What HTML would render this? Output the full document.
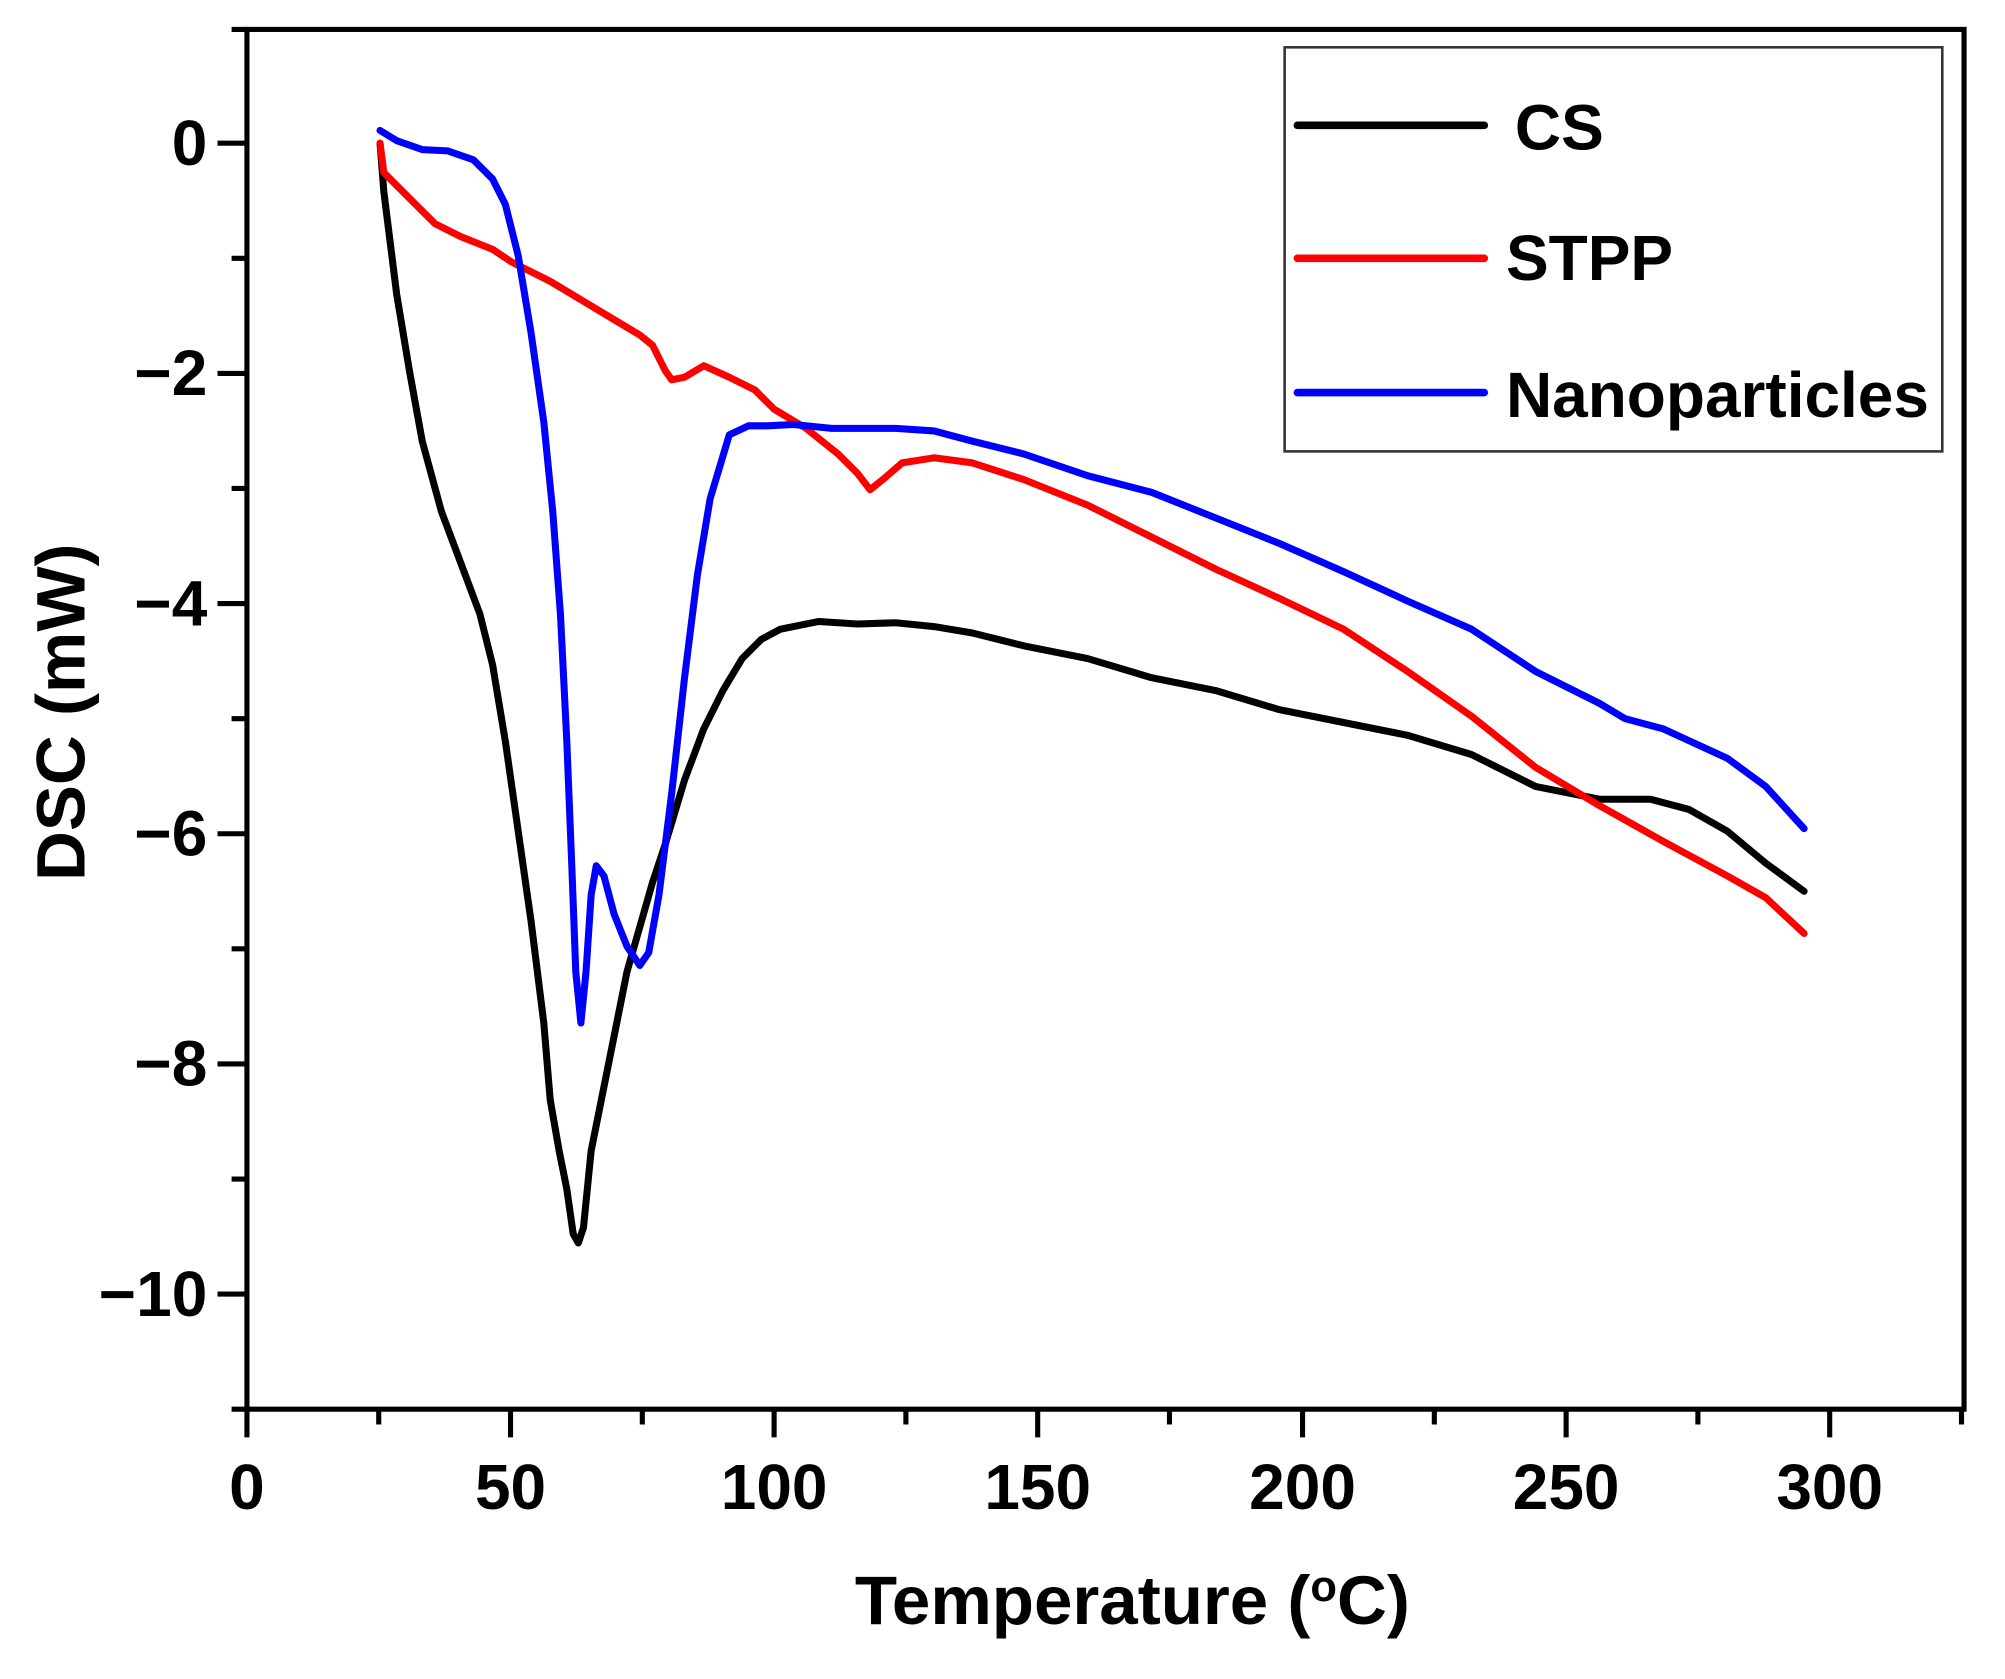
<!DOCTYPE html>
<html><head><meta charset="utf-8"><style>html,body{margin:0;padding:0;background:#fff}svg{display:block}</style></head>
<body>
<svg width="2005" height="1679" viewBox="0 0 1567 1313" preserveAspectRatio="none" xmlns="http://www.w3.org/2000/svg" font-family="Liberation Sans, Arial, sans-serif" font-weight="bold">
<rect width="1567" height="1313" fill="#fff"/>
<g stroke="#000" stroke-width="4" fill="none">
<rect x="193" y="23" width="1342" height="1079"/>
<path d="M170 112H193M170 292H193M170 472H193M170 652H193M170 832H193M170 1012H193M181 23H193M181 202H193M181 382H193M181 562H193M181 742H193M181 922H193M181 1102H193"/>
<path d="M193 1102V1124M399 1102V1124M605 1102V1124M811 1102V1124M1018 1102V1124M1224 1102V1124M1430 1102V1124M296 1102V1114M502 1102V1114M708 1102V1114M914 1102V1114M1121 1102V1114M1327 1102V1114M1533 1102V1114"/>
</g>
<g font-size="50" text-anchor="end">
<text x="162" y="129">0</text>
<text x="162" y="309">−2</text>
<text x="162" y="489">−4</text>
<text x="162" y="669">−6</text>
<text x="162" y="849">−8</text>
<text x="162" y="1029">−10</text>
</g>
<g font-size="50" text-anchor="middle">
<text x="193" y="1180">0</text>
<text x="399" y="1180">50</text>
<text x="605" y="1180">100</text>
<text x="811" y="1180">150</text>
<text x="1018" y="1180">200</text>
<text x="1224" y="1180">250</text>
<text x="1430" y="1180">300</text>
</g>
<text x="885" y="1270" font-size="54" text-anchor="middle">Temperature (<tspan font-size="34" dy="-18">o</tspan><tspan dy="18">C)</tspan></text>
<text transform="translate(66,557) rotate(-90)" font-size="54" text-anchor="middle">DSC (mW)</text>
<g fill="none" stroke-width="5.5" stroke-linejoin="round" stroke-linecap="round">
<polyline stroke="#000" points="297,112 300,150 310,230 320,290 330,345 345,400 360,440 375,480 385,520 395,580 405,650 415,720 425,800 430,860 437,900 443,930 448,965 452,972 456,960 462,900 470,860 480,810 490,760 500,725 510,690 520,660 535,610 550,570 565,540 580,515 595,500 610,492 640,486 670,488 700,487 730,490 760,495 800,505 850,515 900,530 950,540 1000,555 1050,565 1100,575 1150,590 1200,615 1250,625 1290,625 1320,633 1350,650 1380,675 1410,697"/>
<polyline stroke="#ff0000" points="297,112 300,135 320,155 340,175 360,185 385,195 400,205 430,220 455,235 480,250 500,262 510,270 520,290 525,297 535,295 550,286 570,295 590,305 605,320 630,335 655,355 670,370 680,383 690,375 705,362 730,358 760,362 800,375 850,395 900,420 950,445 1000,468 1050,492 1100,525 1150,560 1200,600 1250,630 1300,658 1350,685 1380,702 1410,730"/>
<polyline stroke="#0000ff" points="297,102 310,110 330,117 350,118 370,125 385,140 395,160 405,200 415,260 425,330 432,400 438,480 443,580 447,680 450,760 454,800 458,760 462,700 466,677 472,685 480,715 490,740 500,755 507,745 515,700 525,620 535,530 545,450 555,390 570,340 585,333 600,333 620,332 650,335 700,335 730,337 760,345 800,355 850,372 900,385 950,405 1000,425 1050,447 1100,470 1150,492 1200,525 1250,550 1270,562 1300,570 1350,593 1380,615 1410,648"/>
</g>
<rect x="1004" y="37" width="514" height="316" fill="#fff" stroke="#333" stroke-width="2"/>
<g stroke-width="6" stroke-linecap="round">
<line x1="1014" y1="98" x2="1160" y2="98" stroke="#000"/>
<line x1="1014" y1="202" x2="1160" y2="202" stroke="#ff0000"/>
<line x1="1014" y1="307" x2="1160" y2="307" stroke="#0000ff"/>
</g>
<g font-size="50">
<text x="1184" y="117">CS</text>
<text x="1177" y="219">STPP</text>
<text x="1177" y="326">Nanoparticles</text>
</g>
</svg>
</body></html>
